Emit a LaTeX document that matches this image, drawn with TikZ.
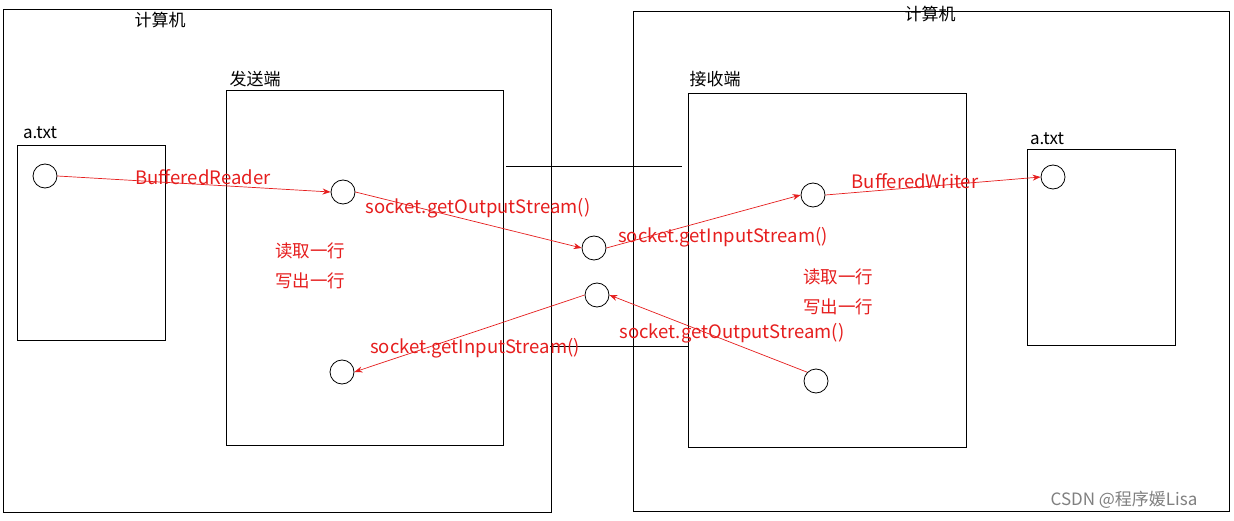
\documentclass[tikz,border=0pt]{standalone}
\usepackage{fontspec}
\setmainfont{Noto Sans CJK SC}
\usetikzlibrary{arrows.meta}
\definecolor{rd}{RGB}{230,30,30}
\begin{document}
\begin{tikzpicture}[x=1pt,y=-1pt,
 box/.style={draw,line width=0.8pt},
 cir/.style={draw,circle,line width=0.8pt,minimum size=24pt,inner sep=0pt},
 lbl/.style={font=\fontsize{17}{17}\selectfont},
 rlbl/.style={text=rd,font=\fontsize{18.5}{18.5}\selectfont},
 clbl/.style={text=rd,font=\fontsize{17.5}{17.5}\selectfont},
 arr/.style={rd,line width=0.7pt,-{Stealth[length=8pt,width=6pt]}}]
\useasboundingbox (0,0) rectangle (1234,521);
\fill[white] (0,0) rectangle (1234,521);
\draw[box] (3,9) rectangle (551,512);
\draw[box] (633,11) rectangle (1229,511);
\draw[box] (226,90) rectangle (503,445);
\draw[box] (688,93) rectangle (966,447);
\draw[box] (17,145) rectangle (165,340);
\draw[box] (1027,149) rectangle (1175,345);
\node[lbl] (t1) at (160,20) {计算机};
\node[lbl] (t2) at (930,14) {计算机};
\node[lbl] (t3) at (255,79) {发送端};
\node[lbl] (t4) at (715,79) {接收端};
\node[lbl] (t5) at (40,133) {a.txt};
\node[lbl] (t6) at (1047,139) {a.txt};
\coordinate (l1a) at (506,166); \coordinate (l1b) at (682,166);
\coordinate (l2a) at (550,346); \coordinate (l2b) at (688,346);
\draw[line width=0.8pt] (l1a) -- (l1b);
\draw[line width=0.8pt] (l2a) -- (l2b);
\node[cir] (c1) at (45,176) {};
\node[cir] (c2) at (343,192) {};
\node[cir] (c3) at (594,248) {};
\node[cir] (c4) at (597,295) {};
\node[cir] (c5) at (342,372) {};
\node[cir] (c6) at (813,195) {};
\node[cir] (c7) at (1053,177) {};
\node[cir] (c8) at (816,381) {};
\draw[arr] (c1.east) -- (c2.west);
\draw[arr] (c2.east) -- (c3.west);
\draw[arr] (c3.east) -- (c6.west);
\draw[arr] (c6.east) -- (c7.west);
\draw[arr] (c8.north west) -- (c4.east);
\draw[arr] (c4.west) -- (c5.east);
\node[rlbl] (a1) at (203,177) {BufferedReader};
\node[rlbl] (a2) at (478,208) {socket.getOutputStream()};
\node[rlbl] (a3) at (723,237) {socket.getInputStream()};
\node[rlbl] (a4) at (915,181) {BufferedWriter};
\node[rlbl] (a5) at (732,333) {socket.getOutputStream()};
\node[rlbl] (a6) at (475,348) {socket.getInputStream()};
\node[clbl] (r1) at (310,251) {读取一行};
\node[clbl] (r2) at (310,281) {写出一行};
\node[clbl] (r3) at (838,277) {读取一行};
\node[clbl] (r4) at (838,307) {写出一行};
\node[text=gray,font=\fontsize{17}{17}\selectfont] (w) at (1124,500) {CSDN @程序媛Lisa};
\end{tikzpicture}
\end{document}
